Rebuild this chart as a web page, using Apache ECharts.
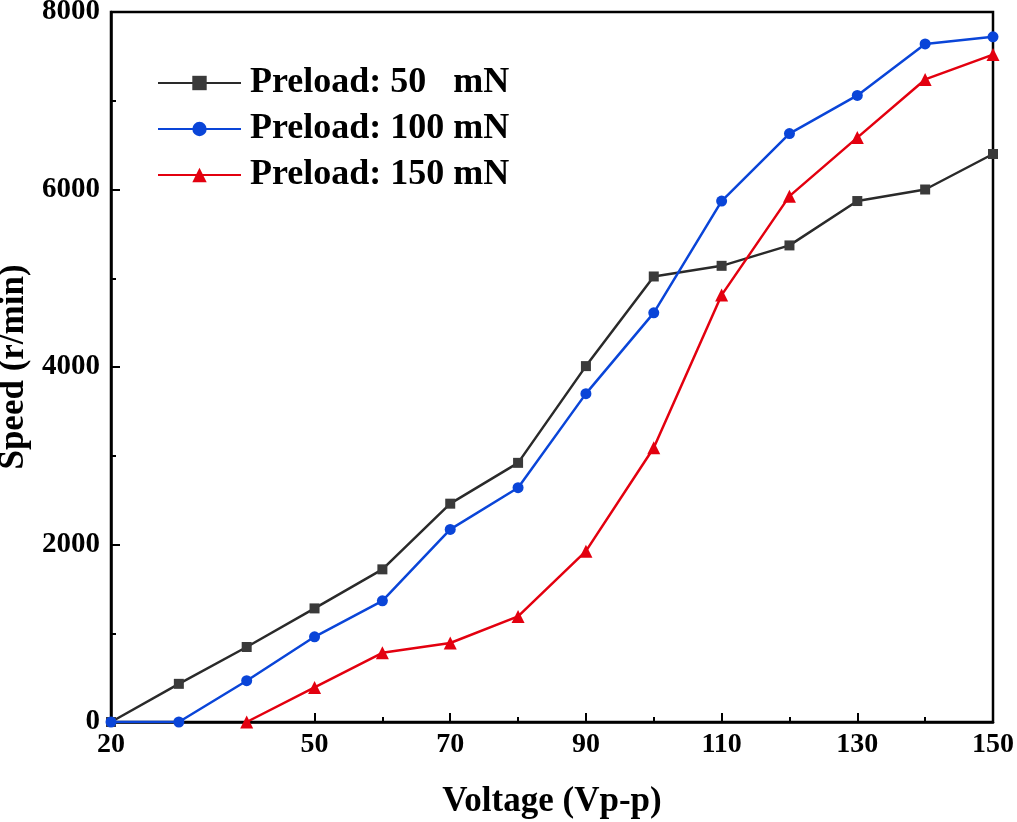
<!DOCTYPE html>
<html>
<head>
<meta charset="utf-8">
<script src="https://cdn.jsdelivr.net/npm/echarts@6/dist/echarts.min.js"></script>
<style>
  html, body { margin: 0; padding: 0; background: #fff; }
  #main { width: 1017px; height: 822px; }
</style>
</head>
<body>
<div id="main"></div>
<script>
// values
var voltage = [20, 30, 40, 50, 60, 70, 80, 90, 100, 110, 120, 130, 140, 150];
var speed50 = [0, 430, 845, 1280, 1720, 2460, 2920, 4010, 5020, 5140, 5370, 5870, 6000, 6400];
var speed100 = [0, 0, 465, 960, 1365, 2170, 2640, 3700, 4610, 5870, 6630, 7060, 7640, 7720];
var speed150 = [null, null, 0, 390, 780, 890, 1190, 1925, 3090, 4810, 5925, 6585, 7240, 7520];

var xLabels = [20, 50, 70, 90, 110, 130, 150];
var xMajorTicks = [50, 70, 90, 110, 130, 150];
var xMinorTicks = [60, 80, 100, 120, 140];
var yMinorTicks = [1000, 3000, 5000, 7000];

var seriesNames = ['Preload: 50   mN', 'Preload: 100 mN', 'Preload: 150 mN'];

var FONT = "'Liberation Serif', 'Times New Roman', serif";

function pairs(ys) {
  var out = [];
  for (var i = 0; i < voltage.length; i++) {
    if (ys[i] !== null) out.push([voltage[i], ys[i]]);
  }
  return out;
}

var myChart = echarts.init(document.getElementById('main'));
myChart.setOption({
  animation: false,
  backgroundColor: '#fff',
  grid: {
    left: 111,
    right: 24,
    top: 12,
    bottom: 100,
    outerBoundsMode: 'none',
    containLabel: false,
    show: true,
    borderColor: '#000',
    borderWidth: 2.5
  },
  legend: {
    data: seriesNames,
    left: 157,
    top: 65,
    orient: 'vertical',
    padding: 0,
    itemWidth: 83,
    itemHeight: 18,
    itemGap: 10,
    selectedMode: false,
    textStyle: {
      fontFamily: FONT,
      fontWeight: 'bold',
      fontSize: 36,
      lineHeight: 36,
      color: '#000',
      padding: [0, 0, 0, 4]
    }
  },
  xAxis: [
    {
      type: 'value',
      min: 20,
      max: 150,
      name: 'Voltage (Vp-p)',
      nameLocation: 'middle',
      nameGap: 62,
      nameTextStyle: { fontFamily: FONT, fontWeight: 'bold', fontSize: 35, color: '#000' },
      axisLine: { show: true, onZero: false, lineStyle: { color: '#000', width: 2.5 } },
      axisTick: { show: true, inside: true, length: 9, customValues: xMajorTicks, lineStyle: { color: '#000', width: 2 } },
      axisLabel: { customValues: xLabels, margin: 9, fontFamily: FONT, fontWeight: 'bold', fontSize: 28, color: '#000' },
      splitLine: { show: false }
    },
    {
      type: 'value',
      min: 20,
      max: 150,
      position: 'bottom',
      axisLine: { show: false },
      axisTick: { show: true, inside: true, length: 5, customValues: xMinorTicks, lineStyle: { color: '#000', width: 2 } },
      axisLabel: { show: false },
      splitLine: { show: false }
    }
  ],
  yAxis: [
    {
      type: 'value',
      min: 0,
      max: 8000,
      interval: 2000,
      name: 'Speed (r/min)',
      nameLocation: 'middle',
      nameGap: 72,
      nameTextStyle: { fontFamily: FONT, fontWeight: 'bold', fontSize: 35, color: '#000' },
      axisLine: { show: true, onZero: false, lineStyle: { color: '#000', width: 2.5 } },
      axisTick: { show: true, inside: true, length: 9, lineStyle: { color: '#000', width: 2 } },
      axisLabel: {
        margin: 11, fontFamily: FONT, fontWeight: 'bold', fontSize: 29, color: '#000',
        formatter: function (v) { return String(v); }
      },
      splitLine: { show: false }
    },
    {
      type: 'value',
      min: 0,
      max: 8000,
      position: 'left',
      axisLine: { show: false },
      axisTick: { show: true, inside: true, length: 5, customValues: yMinorTicks, lineStyle: { color: '#000', width: 2 } },
      axisLabel: { show: false },
      splitLine: { show: false }
    }
  ],
  series: [
    {
      name: seriesNames[0],
      type: 'line',
      data: pairs(speed50),
      symbol: 'rect',
      symbolSize: 10,
      lineStyle: { color: '#2a2a2a', width: 2.5 },
      itemStyle: { color: '#3a3a3a' }
    },
    {
      name: seriesNames[1],
      type: 'line',
      data: pairs(speed100),
      symbol: 'circle',
      symbolSize: 11,
      lineStyle: { color: '#0a45d8', width: 2.5 },
      itemStyle: { color: '#0a45d8' }
    },
    {
      name: seriesNames[2],
      type: 'line',
      data: pairs(speed150),
      symbol: 'triangle',
      symbolSize: 13,
      lineStyle: { color: '#e3000f', width: 2.5 },
      itemStyle: { color: '#e3000f' }
    }
  ]
});
</script>
</body>
</html>
